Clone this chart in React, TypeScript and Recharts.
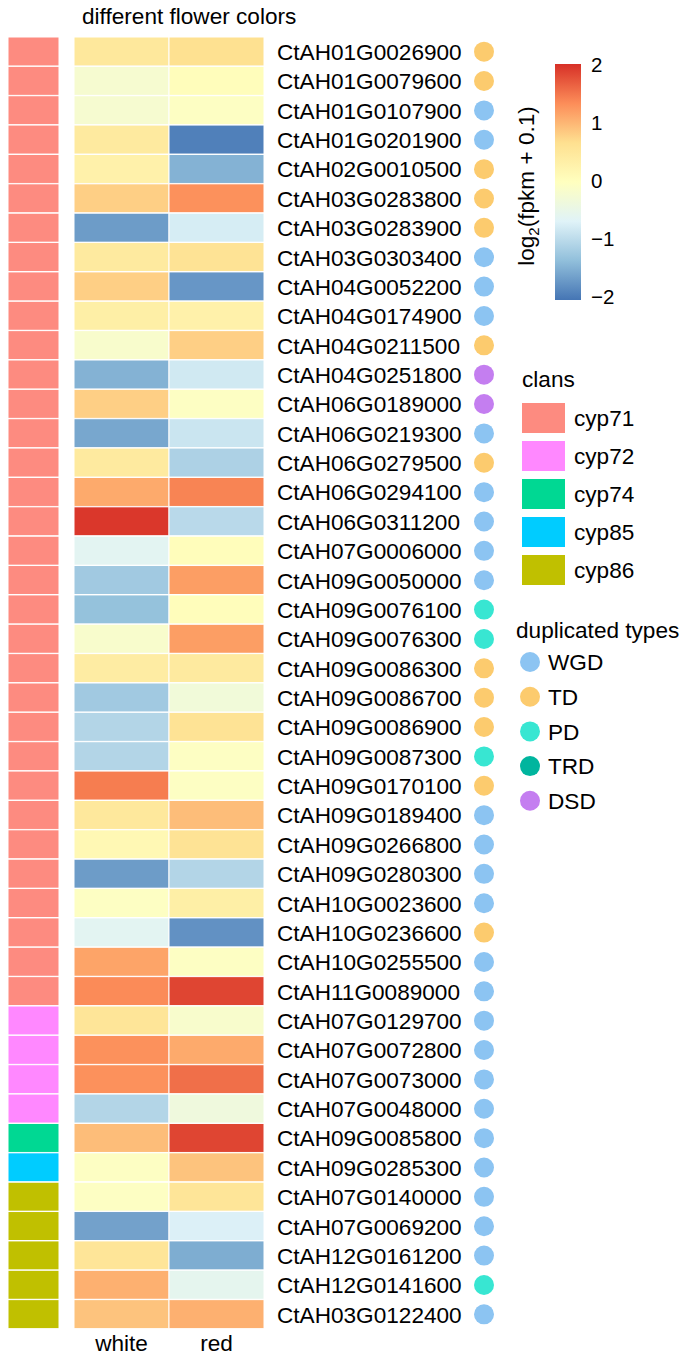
import React from 'react'
import { BarChart, Bar, XAxis, YAxis, Cell } from 'recharts'

const genes = [
  'CtAH01G0026900', 'CtAH01G0079600', 'CtAH01G0107900', 'CtAH01G0201900', 'CtAH02G0010500',
  'CtAH03G0283800', 'CtAH03G0283900', 'CtAH03G0303400', 'CtAH04G0052200', 'CtAH04G0174900',
  'CtAH04G0211500', 'CtAH04G0251800', 'CtAH06G0189000', 'CtAH06G0219300', 'CtAH06G0279500',
  'CtAH06G0294100', 'CtAH06G0311200', 'CtAH07G0006000', 'CtAH09G0050000', 'CtAH09G0076100',
  'CtAH09G0076300', 'CtAH09G0086300', 'CtAH09G0086700', 'CtAH09G0086900', 'CtAH09G0087300',
  'CtAH09G0170100', 'CtAH09G0189400', 'CtAH09G0266800', 'CtAH09G0280300', 'CtAH10G0023600',
  'CtAH10G0236600', 'CtAH10G0255500', 'CtAH11G0089000', 'CtAH07G0129700', 'CtAH07G0072800',
  'CtAH07G0073000', 'CtAH07G0048000', 'CtAH09G0085800', 'CtAH09G0285300', 'CtAH07G0140000',
  'CtAH07G0069200', 'CtAH12G0161200', 'CtAH12G0141600', 'CtAH03G0122400',
]

const geneClans = [
  'cyp71', 'cyp71', 'cyp71', 'cyp71', 'cyp71', 'cyp71', 'cyp71', 'cyp71', 'cyp71', 'cyp71',
  'cyp71', 'cyp71', 'cyp71', 'cyp71', 'cyp71', 'cyp71', 'cyp71', 'cyp71', 'cyp71', 'cyp71',
  'cyp71', 'cyp71', 'cyp71', 'cyp71', 'cyp71', 'cyp71', 'cyp71', 'cyp71', 'cyp71', 'cyp71',
  'cyp71', 'cyp71', 'cyp71', 'cyp72', 'cyp72', 'cyp72', 'cyp72', 'cyp74', 'cyp85', 'cyp86',
  'cyp86', 'cyp86', 'cyp86', 'cyp86',
]

const geneDupTypes = [
  'TD', 'TD', 'WGD', 'WGD', 'TD', 'TD', 'TD', 'WGD', 'WGD', 'WGD',
  'TD', 'DSD', 'DSD', 'WGD', 'TD', 'WGD', 'WGD', 'WGD', 'WGD', 'PD',
  'PD', 'TD', 'TD', 'TD', 'PD', 'TD', 'WGD', 'WGD', 'WGD', 'WGD',
  'TD', 'WGD', 'WGD', 'WGD', 'WGD', 'WGD', 'WGD', 'WGD', 'WGD', 'WGD',
  'WGD', 'WGD', 'PD', 'WGD',
]

// log2(fpkm + 0.1), scaled
const whiteValues = [
  0.5, -0.2, -0.2, 0.45, 0.3, 0.8, -1.65, 0.45, 0.8, 0.35,
  -0.15, -1.45, 0.8, -1.55, 0.45, 1.1, 1.95, -0.6, -1.2, -1.3,
  -0.15, 0.4, -1.2, -1.05, -1.05, 1.45, 0.5, 0.15, -1.65, -0.05,
  -0.6, 1.15, 1.35, 0.55, 1.3, 1.3, -1.05, 0.95, -0.05, -0.05,
  -1.6, 0.55, 1.05, 0.9,
]
const redValues = [
  0.65, 0.05, -0.05, -1.9, -1.45, 1.3, -0.75, 0.6, -1.7, 0.3,
  0.8, -0.8, -0.05, -0.85, -1.1, 1.4, -1.0, 0.05, 1.2, 0.05,
  1.2, 0.45, -0.3, 0.6, -0.05, -0.05, 0.95, 0.6, -1.05, 0.35,
  -1.75, -0.05, 1.85, -0.15, 1.1, 1.55, -0.35, 1.85, 0.9, 0.55,
  -0.7, -1.5, -0.55, 1.05,
]

const sampleNames = ['white', 'red']
const clanNames = ['cyp71', 'cyp72', 'cyp74', 'cyp85', 'cyp86']
const clanColors: Record<string, string> = {
  cyp71: '#FD8B80', cyp72: '#FF88FF', cyp74: '#00D893', cyp85: '#00CCFF', cyp86: '#C0C000',
}
const dupNames = ['WGD', 'TD', 'PD', 'TRD', 'DSD']
const dupColors: Record<string, string> = {
  WGD: '#8CC4F2', TD: '#FCCB6E', PD: '#38E6D2', TRD: '#00B59E', DSD: '#C47EF0',
}
const scaleTicks = [2, 1, 0, -1, -2]
const palette = ['#4575B4', '#91BFDB', '#E0F3F8', '#FFFFBF', '#FEE090', '#FC8D59', '#D73027']

const CLAN_W = 51
const GAP_W = 15
const CELL_W = 95
const FONT = '"Liberation Sans", Arial, sans-serif'
const FS = 22.6

const hex = (c: string) => [1, 3, 5].map(i => parseInt(c.slice(i, i + 2), 16))
const colorFor = (v: number) => {
  const t = Math.max(0, Math.min(1, (v + 2) / 4)) * (palette.length - 1)
  const i = Math.min(palette.length - 2, Math.floor(t))
  const f = t - i
  const a = hex(palette[i])
  const b = hex(palette[i + 1])
  const m = a.map((x, k) => Math.round(x + (b[k] - x) * f))
  return `rgb(${m[0]},${m[1]},${m[2]})`
}

const rows = genes.map((g, i) => ({
  gene: g,
  clan: geneClans[i],
  dup: geneDupTypes[i],
  white: whiteValues[i],
  red: redValues[i],
  clanW: CLAN_W,
  gapW: GAP_W,
  whiteW: CELL_W,
  redW: CELL_W,
}))

const GeneTick = (props: any) => {
  const { x, y, payload, index } = props
  const dup = rows[index] ? rows[index].dup : 'WGD'
  return (
    <g>
      <text x={x} y={y} dy="0.37em" fontSize={FS} fill="#000" fontFamily={FONT}>
        {payload.value}
      </text>
      <circle cx={x + 207} cy={y} r={10} fill={dupColors[dup]} />
    </g>
  )
}

const tickValue = (v: number) => (v < CLAN_W + GAP_W + CELL_W ? sampleNames[0] : sampleNames[1])

export default function App() {
  return (
    <div style={{ position: 'absolute', left: 0, top: 0, width: 685, height: 1357, background: '#fff', fontFamily: FONT }}>
      <BarChart
        width={685}
        height={1357}
        data={rows}
        layout="vertical"
        barCategoryGap={0}
        barGap={0}
        margin={{ top: 37, right: 201, bottom: 0, left: 8 }}
      >
        <XAxis
          type="number"
          domain={[0, CLAN_W + GAP_W + CELL_W * 2]}
          ticks={[CLAN_W + GAP_W + CELL_W / 2, CLAN_W + GAP_W + CELL_W * 1.5]}
          tickFormatter={tickValue}
          axisLine={false}
          tickLine={false}
          tickSize={0}
          tickMargin={6}
          height={28}
          tick={{ fontSize: FS, fill: '#000', fontFamily: FONT }}
        />
        <YAxis
          type="category"
          dataKey="gene"
          orientation="right"
          width={220}
          interval={0}
          axisLine={false}
          tickLine={false}
          tickSize={0}
          tickMargin={13}
          tick={<GeneTick />}
        />
        <Bar dataKey="clanW" stackId="s" isAnimationActive={false} stroke="#fff" strokeWidth={1}>
          {rows.map((r, i) => <Cell key={i} fill={clanColors[r.clan]} />)}
        </Bar>
        <Bar dataKey="gapW" stackId="s" isAnimationActive={false} fill="transparent" />
        <Bar dataKey="whiteW" stackId="s" isAnimationActive={false} stroke="#fff" strokeWidth={1}>
          {rows.map((r, i) => <Cell key={i} fill={colorFor(r.white)} />)}
        </Bar>
        <Bar dataKey="redW" stackId="s" isAnimationActive={false} stroke="#fff" strokeWidth={1}>
          {rows.map((r, i) => <Cell key={i} fill={colorFor(r.red)} />)}
        </Bar>
      </BarChart>

      <svg width={685} height={1357} style={{ position: 'absolute', left: 0, top: 0, pointerEvents: 'none' }} fontFamily={FONT}>
        <defs>
          <linearGradient id="scale" x1="0" y1="1" x2="0" y2="0">
            {palette.map((c, i) => <stop key={i} offset={i / (palette.length - 1)} stopColor={c} />)}
          </linearGradient>
        </defs>
        <text x={82} y={24} fontSize={FS} fill="#000">different flower colors</text>

        {/* colour scale */}
        <rect x={555} y={64} width={26} height={236} fill="url(#scale)" />
        {scaleTicks.map((v, i) => (
          <text key={v} x={591} y={65 + i * 58} dy="0.36em" fontSize={20.5} fill="#000">
            {v < 0 ? '\u2212' + Math.abs(v) : v}
          </text>
        ))}
        <text transform="translate(534,186) rotate(-90)" textAnchor="middle" fontSize={FS} fill="#000">
          log<tspan fontSize={15} dy={5}>2</tspan><tspan dy={-5}>(fpkm + 0.1)</tspan>
        </text>

        {/* clans legend */}
        <text x={522} y={387} fontSize={FS} fill="#000">clans</text>
        {clanNames.map((c, i) => (
          <g key={c}>
            <rect x={522} y={403 + i * 38} width={43} height={30} fill={clanColors[c]} />
            <text x={574} y={418 + i * 38} dy="0.36em" fontSize={FS} fill="#000">{c}</text>
          </g>
        ))}

        {/* duplicated types legend */}
        <text x={516} y={638} fontSize={FS} fill="#000">duplicated types</text>
        {dupNames.map((d, i) => (
          <g key={d}>
            <circle cx={530} cy={662 + i * 34.7} r={10} fill={dupColors[d]} />
            <text x={548} y={662 + i * 34.7} dy="0.36em" fontSize={FS} fill="#000">{d}</text>
          </g>
        ))}
      </svg>
    </div>
  )
}
